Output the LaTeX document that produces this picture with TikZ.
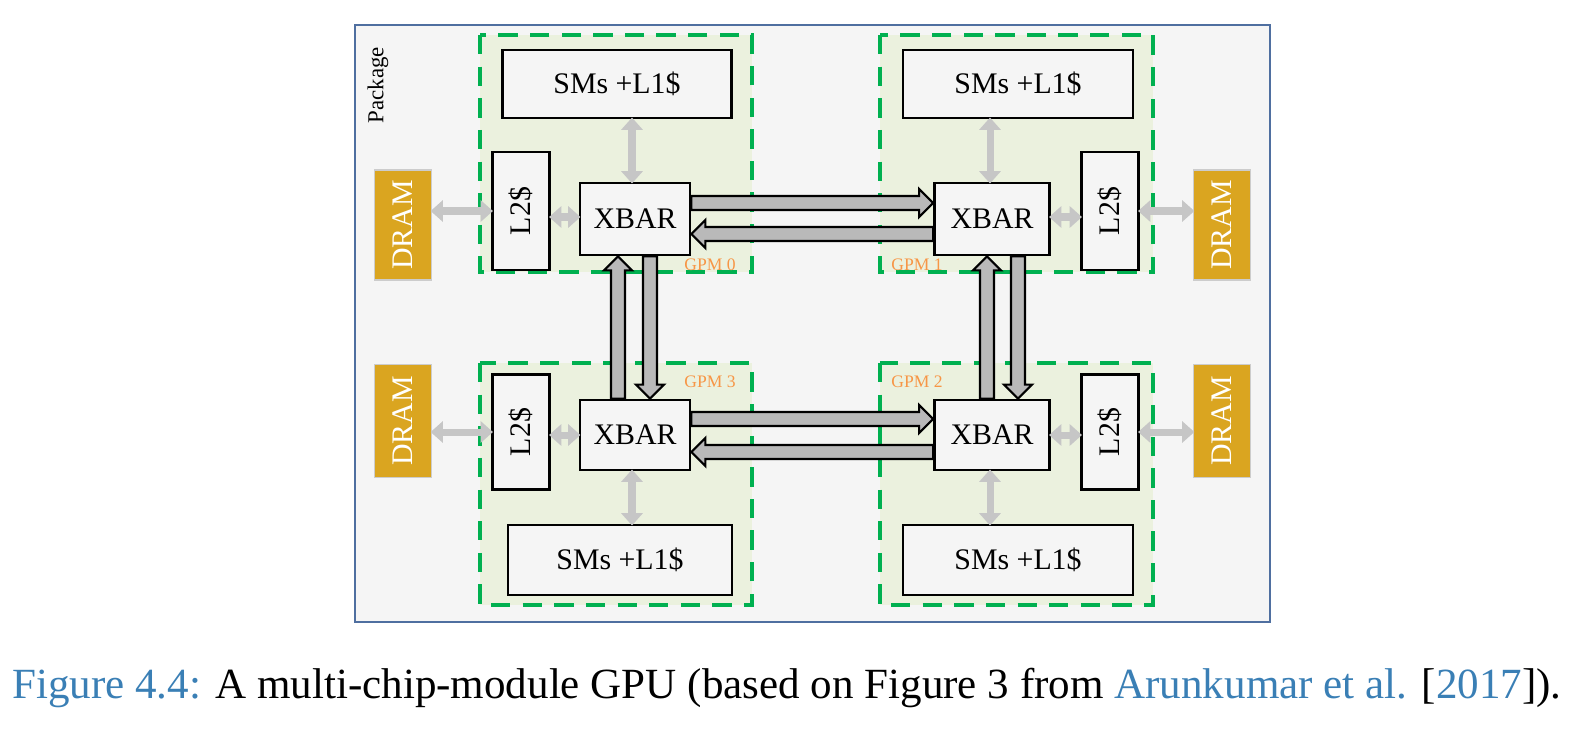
\documentclass[tikz,border=0pt]{standalone}
\usepackage{fontspec}
\setmainfont{Liberation Serif}
\usetikzlibrary{calc,arrows.meta}
\definecolor{pkgb}{HTML}{4F6FA0}
\definecolor{gpmf}{HTML}{EBF1DE}
\definecolor{gpmd}{HTML}{00B050}
\definecolor{dram}{HTML}{DAA520}
\definecolor{orng}{HTML}{F79646}
\definecolor{capb}{HTML}{3A7FB5}
\newcommand\blockarrow[2]{%
  \path (#2) coordinate (BB) ($(#2)!8pt!(#1)$) coordinate (HB);
  \filldraw[fill=gray!55,draw=black,line width=1.2pt,line join=miter]
    ($(#1)!4pt!90:(#2)$) -- ($(HB)!4pt!-90:(#1)$) -- ($(HB)!8pt!-90:(#1)$) -- (BB)
    -- ($(HB)!8pt!90:(#1)$) -- ($(HB)!4pt!90:(#1)$) -- ($(#1)!4pt!-90:(#2)$) -- cycle;}
\begin{document}
\begin{tikzpicture}[x=0.02cm,y=-0.02cm,
  box/.style={draw=black,line width=1.5pt,fill=gray!8,inner sep=0pt,font=\fontsize{17}{17}\selectfont},
  gpm/.style={draw=gpmd,fill=gpmf,line width=2.8pt,dash pattern=on 11pt off 7pt},
  dramn/.style={fill=dram,draw=gray!40,line width=1pt,minimum width=2.2cm,minimum height=1.14cm,text=white,font=\fontsize{17}{17}\selectfont,rotate=90,inner sep=0pt},
  small/.style={gray!45,line width=4pt,{Triangle[width=12pt,length=7pt]}-{Triangle[width=12pt,length=7pt]},shorten >=-1pt,shorten <=-1pt},
  lbl/.style={text=orng,font=\fontsize{10}{10}\selectfont}]
\useasboundingbox (0,0) rectangle (1594,735);
\draw[fill=gray!8,draw=pkgb,line width=1.2pt] (355,25) rectangle (1270,622);
\node[rotate=90,font=\fontsize{13}{13}\selectfont] (pk) at (378,85) {Package};
\draw[gpm] (480,35) rectangle (752,272);
\draw[gpm] (880,35) rectangle (1153,272);
\draw[gpm] (480,363) rectangle (752,605);
\draw[gpm] (880,363) rectangle (1153,605);
% nodes
\node[box,minimum width=4.58cm,minimum height=1.36cm] (sm0) at (617,84) {SMs +L1\$};
\node[box,minimum width=4.6cm,minimum height=1.36cm] (sm1) at (1018,84) {SMs +L1\$};
\node[box,minimum width=4.48cm,minimum height=1.4cm] (sm3) at (620,560) {SMs +L1\$};
\node[box,minimum width=4.6cm,minimum height=1.4cm] (sm2) at (1018,560) {SMs +L1\$};
\node[box,rotate=90,minimum width=2.36cm,minimum height=1.14cm] (l0) at (521,211) {L2\$};
\node[box,rotate=90,minimum width=2.36cm,minimum height=1.14cm] (l1) at (1110,211) {L2\$};
\node[box,rotate=90,minimum width=2.3cm,minimum height=1.14cm] (l3) at (521,432) {L2\$};
\node[box,rotate=90,minimum width=2.3cm,minimum height=1.14cm] (l2) at (1110,432) {L2\$};
\node[box,minimum width=2.2cm,minimum height=1.44cm] (x0) at (635,219) {XBAR};
\node[box,minimum width=2.3cm,minimum height=1.44cm] (x1) at (992,219) {XBAR};
\node[box,minimum width=2.2cm,minimum height=1.4cm] (x3) at (635,435) {XBAR};
\node[box,minimum width=2.3cm,minimum height=1.4cm] (x2) at (992,435) {XBAR};
\node[dramn] (d0) at (403,225) {DRAM};
\node[dramn,minimum width=2.26cm] (d3) at (403,421) {DRAM};
\node[dramn] (d1) at (1222,225) {DRAM};
\node[dramn,minimum width=2.26cm] (d2) at (1222,421) {DRAM};
\node[lbl] (g0) at (710,265) {GPM 0};
\node[lbl] (g1) at (917,265) {GPM 1};
\node[lbl] (g3) at (710,382) {GPM 3};
\node[lbl] (g2) at (917,382) {GPM 2};
% small arrows
\draw[small] (sm0.south -| 632,0) -- (x0.north -| 632,0);
\draw[small] (sm1.south -| 990,0) -- (x1.north -| 990,0);
\draw[small] (sm3.north -| 632,0) -- (x3.south -| 632,0);
\draw[small] (sm2.north -| 990,0) -- (x2.south -| 990,0);
\draw[small] (l0.south |- 0,217) -- (x0.west |- 0,217);
\draw[small] (l1.north |- 0,217) -- (x1.east |- 0,217);
\draw[small] (l3.south |- 0,435) -- (x3.west |- 0,435);
\draw[small] (l2.north |- 0,435) -- (x2.east |- 0,435);
\draw[small] (d0.south |- 0,211) -- (l0.north |- 0,211);
\draw[small] (d1.north |- 0,211) -- (l1.south |- 0,211);
\draw[small] (d3.south |- 0,432) -- (l3.north |- 0,432);
\draw[small] (d2.north |- 0,432) -- (l2.south |- 0,432);
% block arrows
\coordinate (a1) at (x0.east |- 0,203); \coordinate (a2) at (x1.west |- 0,203); \blockarrow{a1}{a2}
\coordinate (a1) at (x1.west |- 0,234); \coordinate (a2) at (x0.east |- 0,234); \blockarrow{a1}{a2}
\coordinate (a1) at (x3.east |- 0,419); \coordinate (a2) at (x2.west |- 0,419); \blockarrow{a1}{a2}
\coordinate (a1) at (x2.west |- 0,452); \coordinate (a2) at (x3.east |- 0,452); \blockarrow{a1}{a2}
\coordinate (a1) at (x3.north -| 618,0); \coordinate (a2) at (x0.south -| 618,0); \blockarrow{a1}{a2}
\coordinate (a1) at (x0.south -| 650,0); \coordinate (a2) at (x3.north -| 650,0); \blockarrow{a1}{a2}
\coordinate (a1) at (x2.north -| 987,0); \coordinate (a2) at (x1.south -| 987,0); \blockarrow{a1}{a2}
\coordinate (a1) at (x1.south -| 1018,0); \coordinate (a2) at (x2.north -| 1018,0); \blockarrow{a1}{a2}
\node[anchor=west,font=\fontsize{24.5}{24.5}\selectfont] (cap) at (6,688) {\textcolor{capb}{Figure 4.4:} A multi-chip-module GPU (based on Figure 3 from \textcolor{capb}{Arunkumar et al.} [\textcolor{capb}{2017}]).};
\end{tikzpicture}
\end{document}
